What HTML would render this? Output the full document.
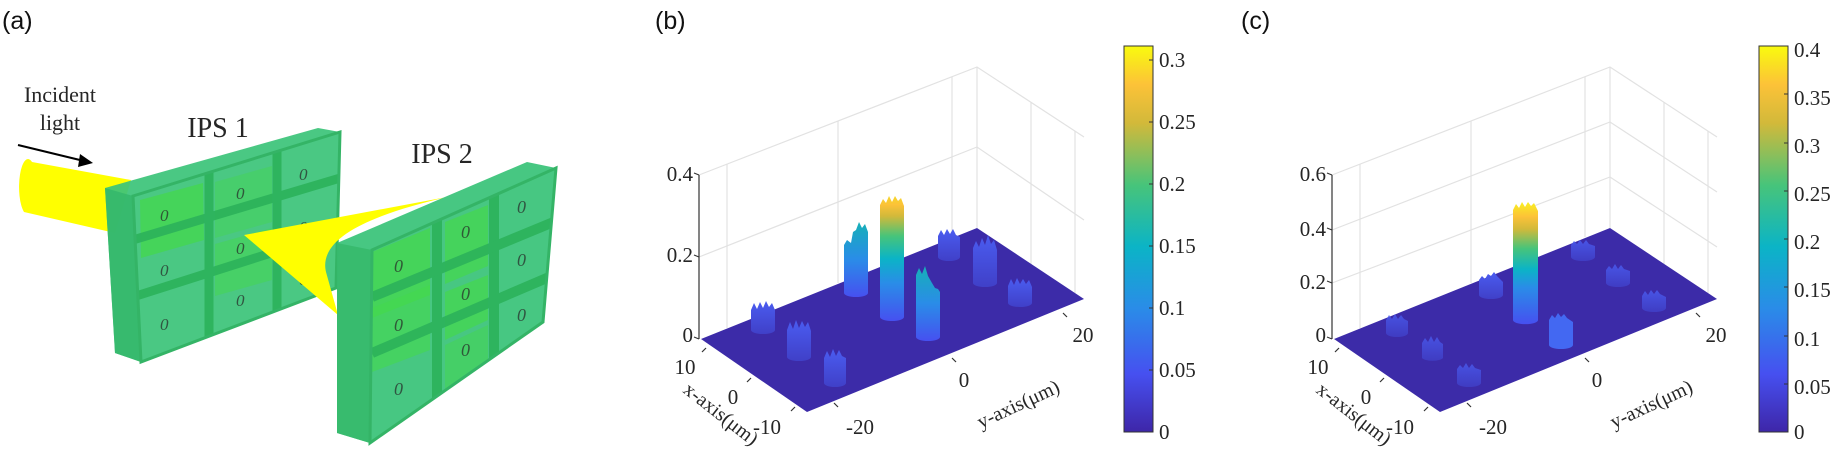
<!DOCTYPE html>
<html><head><meta charset="utf-8"><style>
html,body{margin:0;padding:0;background:#fff}
svg{display:block}
text{font-family:"Liberation Serif",serif;fill:#262626}
.lab{font-family:"Liberation Sans",sans-serif;font-size:25px;fill:#111}
</style></head><body>
<svg width="1831" height="458" viewBox="0 0 1831 458" xmlns="http://www.w3.org/2000/svg">
<defs>
<linearGradient id="par" x1="0" y1="1" x2="0" y2="0">
<stop offset="0" stop-color="#3e26a8"/><stop offset="0.15" stop-color="#4650f0"/><stop offset="0.32" stop-color="#2a8ce8"/><stop offset="0.48" stop-color="#0bb4c6"/><stop offset="0.64" stop-color="#47c47a"/><stop offset="0.8" stop-color="#d2b93a"/><stop offset="0.9" stop-color="#fcc238"/><stop offset="1" stop-color="#f9fb0e"/>
</linearGradient>
<linearGradient id="pk1" x1="0" y1="1" x2="0" y2="0">
<stop offset="0" stop-color="#4650f0"/><stop offset="0.3" stop-color="#2a8ce8"/><stop offset="0.5" stop-color="#0bb4c6"/><stop offset="0.68" stop-color="#47c47a"/><stop offset="0.84" stop-color="#d2b93a"/><stop offset="0.93" stop-color="#fcc238"/><stop offset="1" stop-color="#f5d72a"/>
</linearGradient>
<linearGradient id="pk1c" x1="0" y1="1" x2="0" y2="0">
<stop offset="0" stop-color="#4650f0"/><stop offset="0.3" stop-color="#2a8ce8"/><stop offset="0.45" stop-color="#0bb4c6"/><stop offset="0.62" stop-color="#47c47a"/><stop offset="0.78" stop-color="#d2b93a"/><stop offset="0.88" stop-color="#fcc238"/><stop offset="1" stop-color="#f9f020"/>
</linearGradient>
<linearGradient id="pk2" x1="0" y1="1" x2="0" y2="0">
<stop offset="0" stop-color="#4650f0"/><stop offset="0.5" stop-color="#2a8ce8"/><stop offset="1" stop-color="#16b0b8"/>
</linearGradient>
<linearGradient id="pks" x1="0" y1="1" x2="0" y2="0">
<stop offset="0" stop-color="#4040c8"/><stop offset="1" stop-color="#4a5cf0"/>
</linearGradient>
<clipPath id="cp1"><polygon points="133,196 340,132 336,288 141,362"/></clipPath>
<clipPath id="cp2"><polygon points="372,250 556,168 543,322 370,443"/></clipPath>
</defs>

<!-- Panel (a) -->
<text class="lab" x="2" y="29">(a)</text>
<text x="60" y="102" text-anchor="middle" style="font-size:22px">Incident</text>
<text x="60" y="130" text-anchor="middle" style="font-size:22px">light</text>
<text x="218" y="137" text-anchor="middle" style="font-size:28px">IPS 1</text>
<text x="442" y="163" text-anchor="middle" style="font-size:28px">IPS 2</text>
<line x1="18" y1="145" x2="84" y2="161" stroke="#000" stroke-width="2"/>
<polygon points="93,163 80,154 78,167" fill="#000"/>
<path d="M32,162 L131,180 L115,233 L24,212 A8,25 0 0 1 32,162 Z" fill="#ffff00"/>
<!-- plate 1 -->
<polygon points="105,188 318,128 340,132 336,288 141,362 115,353" fill="#3cc47a" opacity="0.93"/>
<polygon points="105,188 133,196 141,362 115,353" fill="#35b86c" opacity="0.9"/>
<g clip-path="url(#cp1)">
<polygon points="140,200 203,183 204,240 141,258" fill="#44d84c" opacity="0.75"/>
<polygon points="215,182 272,166 272,222 215,238" fill="#44d84c" opacity="0.4"/>
<polygon points="215,244 272,228 272,280 215,296" fill="#44d84c" opacity="0.5"/>
<g stroke="#2cb25a" stroke-width="9" opacity="0.9">
<line x1="209" y1="150" x2="209" y2="360"/><line x1="277" y1="130" x2="277" y2="340"/>
<line x1="133" y1="240" x2="340" y2="178"/><line x1="133" y1="297" x2="340" y2="231"/>
</g>
</g>
<polygon points="133,196 340,132 336,288 141,362" fill="none" stroke="#34b466" stroke-width="3"/>
<g font-style="italic" fill="#2aa05a" style="font-size:17px" opacity="0.7">
<text x="160" y="221">0</text><text x="236" y="199">0</text><text x="299" y="180">0</text>
<text x="160" y="276">0</text><text x="236" y="254">0</text><text x="299" y="233">0</text>
<text x="160" y="330">0</text><text x="236" y="306">0</text><text x="299" y="285">0</text>
</g>
<!-- cone -->
<path d="M244,235 L447,197 C370,215 318,238 326,272 L338,315 Z" fill="#ffff00"/>
<!-- plate 2 -->
<polygon points="337,243 527,162 556,168 543,322 370,443 337,433" fill="#3cc47a" opacity="0.94"/>
<polygon points="337,243 372,250 370,443 337,433" fill="#36b96c" opacity="0.9"/>
<g clip-path="url(#cp2)">
<polygon points="372,252 430,228 430,295 372,318" fill="#44d84c" opacity="0.75"/>
<polygon points="445,222 488,205 488,266 445,284" fill="#44d84c" opacity="0.7"/>
<polygon points="445,292 488,275 488,320 445,340" fill="#44d84c" opacity="0.7"/>
<polygon points="372,308 430,285 430,350 372,372" fill="#44d84c" opacity="0.6"/>
<polygon points="445,345 488,325 488,370 445,392" fill="#44d84c" opacity="0.5"/>
<g stroke="#2cb25a" stroke-width="10" opacity="0.9">
<line x1="437" y1="200" x2="437" y2="440"/><line x1="494" y1="180" x2="494" y2="420"/>
<line x1="372" y1="297" x2="556" y2="221"/><line x1="372" y1="353" x2="556" y2="274"/>
</g>
</g>
<polygon points="372,250 556,168 543,322 370,443" fill="none" stroke="#34b466" stroke-width="3"/>
<g font-style="italic" fill="#2aa05a" style="font-size:18px" opacity="0.7">
<text x="394" y="272">0</text><text x="461" y="238">0</text><text x="517" y="213">0</text>
<text x="394" y="331">0</text><text x="461" y="300">0</text><text x="517" y="266">0</text>
<text x="394" y="395">0</text><text x="461" y="356">0</text><text x="517" y="321">0</text>
</g>

<!-- Panel (b) -->
<text class="lab" x="655" y="29">(b)</text>
<g stroke="#e2e2e2" stroke-width="1.2" fill="none">
<polyline points="699,175 977,67 1084,137"/>
<polyline points="699,257 977,147 1084,220"/>
<line x1="977" y1="67" x2="977" y2="228"/>
<line x1="727" y1="164" x2="727" y2="328"/><line x1="838" y1="121" x2="838" y2="283"/><line x1="952" y1="77" x2="952" y2="237"/>
<line x1="1031" y1="102" x2="1031" y2="264"/><line x1="1075" y1="131" x2="1075" y2="293"/>
</g>
<g stroke="#333" stroke-width="1.2">
<line x1="699" y1="175" x2="699" y2="339"/>
<line x1="699" y1="175" x2="694" y2="173"/><line x1="699" y1="257" x2="694" y2="255"/><line x1="699" y1="339" x2="694" y2="337"/>
<line x1="706" y1="348" x2="702" y2="352"/><line x1="751" y1="378" x2="747" y2="382"/><line x1="795" y1="407" x2="791" y2="411"/>
<line x1="834" y1="403" x2="838" y2="407"/><line x1="952" y1="358" x2="956" y2="362"/><line x1="1063" y1="313" x2="1067" y2="317"/>
</g>
<polygon points="701,339 977,228 1084,299 807,412" fill="#3c2ba8"/>
<g>
<path d="M751,330 L751,310 754,303 757,309 760,302 763,308 766,301 769,307 772,303 775,310 L775,330 A12,4 0 0 1 751,330Z" fill="url(#pks)"/>
<path d="M787,357 L787,330 790,322 793,329 796,320 799,328 802,321 805,327 808,322 811,331 L811,357 A12,4 0 0 1 787,357Z" fill="url(#pks)"/>
<path d="M824,383 L824,358 827,351 830,357 833,349 836,356 839,350 842,356 846,358 L846,383 A11,4 0 0 1 824,383Z" fill="url(#pks)"/>
<path d="M938,257 L938,236 941,230 944,235 947,229 950,234 953,229 956,235 960,237 L960,257 A11,4 0 0 1 938,257Z" fill="url(#pks)"/>
<path d="M973,283 L973,248 976,241 979,247 982,238 985,245 988,235 991,244 994,240 997,250 L997,283 A12,4 0 0 1 973,283Z" fill="url(#pks)"/>
<path d="M1008,303 L1008,286 1011,279 1014,285 1017,278 1020,284 1023,279 1026,284 1029,280 1032,287 L1032,303 A12,4 0 0 1 1008,303Z" fill="url(#pks)"/>
<path d="M844,293 L844,245 847,240 851,243 853,232 856,230 859,222 862,228 865,224 868,232 L868,293 A12,4 0 0 1 844,293Z" fill="url(#pk2)"/>
<path d="M880,317 L880,205 883,199 886,203 889,196 892,202 895,196 898,201 901,198 904,206 L904,317 A12,4 0 0 1 880,317Z" fill="url(#pk1)"/>
<path d="M916,337 L916,275 919,268 922,274 925,266 928,276 932,283 935,288 938,289 940,292 L940,337 A12,4 0 0 1 916,337Z" fill="url(#pk2)"/>
</g>
<text x="693" y="181" text-anchor="end" style="font-size:21px">0.4</text>
<text x="693" y="262" text-anchor="end" style="font-size:21px">0.2</text>
<text x="693" y="342" text-anchor="end" style="font-size:21px">0</text>
<text x="685" y="374" text-anchor="middle" style="font-size:21px">10</text>
<text x="733" y="404" text-anchor="middle" style="font-size:21px">0</text>
<text x="767" y="434" text-anchor="middle" style="font-size:21px">-10</text>
<text x="860" y="434" text-anchor="middle" style="font-size:21px">-20</text>
<text x="964" y="387" text-anchor="middle" style="font-size:21px">0</text>
<text x="1083" y="342" text-anchor="middle" style="font-size:21px">20</text>
<text transform="translate(717,419) rotate(38)" text-anchor="middle" style="font-size:20px">x-axis(μm)</text>
<text transform="translate(1021,410) rotate(-25)" text-anchor="middle" style="font-size:20px">y-axis(μm)</text>
<rect x="1124" y="46" width="29" height="386" fill="url(#par)" stroke="#333" stroke-width="1"/>
<g stroke="#333" stroke-width="1">
<line x1="1149" y1="60" x2="1153" y2="60"/><line x1="1149" y1="122" x2="1153" y2="122"/><line x1="1149" y1="184" x2="1153" y2="184"/><line x1="1149" y1="246" x2="1153" y2="246"/><line x1="1149" y1="308" x2="1153" y2="308"/><line x1="1149" y1="370" x2="1153" y2="370"/>
</g>
<text x="1159" y="67" style="font-size:21px">0.3</text>
<text x="1159" y="129" style="font-size:21px">0.25</text>
<text x="1159" y="191" style="font-size:21px">0.2</text>
<text x="1159" y="253" style="font-size:21px">0.15</text>
<text x="1159" y="315" style="font-size:21px">0.1</text>
<text x="1159" y="377" style="font-size:21px">0.05</text>
<text x="1159" y="439" style="font-size:21px">0</text>

<!-- Panel (c) -->
<text class="lab" x="1241" y="29">(c)</text>
<g transform="translate(633,0)">
<g stroke="#e2e2e2" stroke-width="1.2" fill="none">
<polyline points="699,175 977,67 1084,137"/>
<polyline points="699,230 977,122 1084,192"/>
<polyline points="699,283 977,177 1084,247"/>
<line x1="977" y1="67" x2="977" y2="228"/>
<line x1="727" y1="164" x2="727" y2="328"/><line x1="838" y1="121" x2="838" y2="283"/><line x1="952" y1="77" x2="952" y2="237"/>
<line x1="1031" y1="102" x2="1031" y2="264"/><line x1="1075" y1="131" x2="1075" y2="293"/>
</g>
<g stroke="#333" stroke-width="1.2">
<line x1="699" y1="175" x2="699" y2="339"/>
<line x1="699" y1="175" x2="694" y2="173"/><line x1="699" y1="230" x2="694" y2="228"/><line x1="699" y1="283" x2="694" y2="281"/><line x1="699" y1="339" x2="694" y2="337"/>
<line x1="706" y1="348" x2="702" y2="352"/><line x1="751" y1="378" x2="747" y2="382"/><line x1="795" y1="407" x2="791" y2="411"/>
<line x1="834" y1="403" x2="838" y2="407"/><line x1="952" y1="358" x2="956" y2="362"/><line x1="1063" y1="313" x2="1067" y2="317"/>
</g>
<polygon points="701,339 977,228 1084,299 807,412" fill="#3c2ba8"/>
<g>
<path d="M753,333 L753,320 756,315 759,319 762,314 765,319 768,315 771,319 775,321 L775,333 A11,4 0 0 1 753,333Z" fill="url(#pks)" opacity="0.8"/>
<path d="M789,358 L789,343 792,338 795,342 798,336 801,342 804,337 807,342 810,344 L810,358 A11,4 0 0 1 789,358Z" fill="url(#pks)" opacity="0.8"/>
<path d="M824,383 L824,369 827,365 830,368 833,363 836,368 839,364 842,368 848,370 L848,383 A12,4 0 0 1 824,383Z" fill="url(#pks)" opacity="0.8"/>
<path d="M846,295 L846,280 849,276 852,279 855,274 858,276 861,272 864,276 870,282 L870,295 A12,4 0 0 1 846,295Z" fill="url(#pks)"/>
<path d="M938,257 L938,245 941,241 944,244 947,240 950,244 953,240 956,244 962,246 L962,257 A12,4 0 0 1 938,257Z" fill="url(#pks)" opacity="0.85"/>
<path d="M973,283 L973,270 976,266 979,269 982,264 985,269 988,265 991,269 997,271 L997,283 A12,4 0 0 1 973,283Z" fill="url(#pks)" opacity="0.85"/>
<path d="M1009,308 L1009,296 1012,291 1015,295 1018,290 1021,294 1024,290 1027,294 1033,297 L1033,308 A12,4 0 0 1 1009,308Z" fill="url(#pks)" opacity="0.85"/>
<path d="M880,320 L880,210 883,204 886,208 889,202 892,207 895,202 898,206 901,203 905,211 L905,320 A12,4 0 0 1 880,320Z" fill="url(#pk1c)"/>
<path d="M916,345 L916,320 919,315 922,318 925,313 928,317 931,314 934,318 940,322 L940,345 A12,4 0 0 1 916,345Z" fill="#4368f2"/>
</g>
<text x="693" y="181" text-anchor="end" style="font-size:21px">0.6</text>
<text x="693" y="236" text-anchor="end" style="font-size:21px">0.4</text>
<text x="693" y="289" text-anchor="end" style="font-size:21px">0.2</text>
<text x="693" y="342" text-anchor="end" style="font-size:21px">0</text>
<text x="685" y="374" text-anchor="middle" style="font-size:21px">10</text>
<text x="733" y="404" text-anchor="middle" style="font-size:21px">0</text>
<text x="767" y="434" text-anchor="middle" style="font-size:21px">-10</text>
<text x="860" y="434" text-anchor="middle" style="font-size:21px">-20</text>
<text x="964" y="387" text-anchor="middle" style="font-size:21px">0</text>
<text x="1083" y="342" text-anchor="middle" style="font-size:21px">20</text>
<text transform="translate(717,419) rotate(38)" text-anchor="middle" style="font-size:20px">x-axis(μm)</text>
<text transform="translate(1021,410) rotate(-25)" text-anchor="middle" style="font-size:20px">y-axis(μm)</text>
</g>
<rect x="1759" y="46" width="29" height="386" fill="url(#par)" stroke="#333" stroke-width="1"/>
<g stroke="#333" stroke-width="1">
<line x1="1784" y1="94" x2="1788" y2="94"/><line x1="1784" y1="143" x2="1788" y2="143"/><line x1="1784" y1="191" x2="1788" y2="191"/><line x1="1784" y1="239" x2="1788" y2="239"/><line x1="1784" y1="287" x2="1788" y2="287"/><line x1="1784" y1="336" x2="1788" y2="336"/><line x1="1784" y1="384" x2="1788" y2="384"/>
</g>
<text x="1794" y="57" style="font-size:21px">0.4</text>
<text x="1794" y="105" style="font-size:21px">0.35</text>
<text x="1794" y="153" style="font-size:21px">0.3</text>
<text x="1794" y="201" style="font-size:21px">0.25</text>
<text x="1794" y="249" style="font-size:21px">0.2</text>
<text x="1794" y="297" style="font-size:21px">0.15</text>
<text x="1794" y="346" style="font-size:21px">0.1</text>
<text x="1794" y="394" style="font-size:21px">0.05</text>
<text x="1794" y="439" style="font-size:21px">0</text>
</svg>
</body></html>
